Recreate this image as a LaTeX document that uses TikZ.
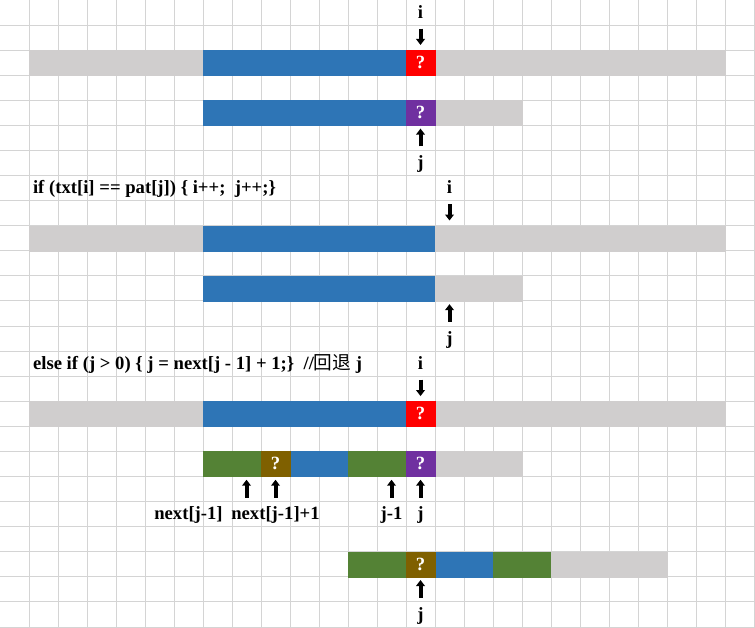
\documentclass[tikz,border=0pt]{standalone}
\usepackage{fontspec}
\setmainfont{Liberation Serif}
\newfontfamily\cjk{Noto Sans CJK SC}
\usetikzlibrary{arrows.meta}
\definecolor{gridgrey}{RGB}{212,212,212}
\definecolor{restgrey}{RGB}{208,206,206}
\definecolor{matchblue}{RGB}{46,117,182}
\definecolor{textred}{RGB}{255,0,0}
\definecolor{patpurple}{RGB}{112,48,160}
\definecolor{prefgreen}{RGB}{84,130,53}
\definecolor{nextbrown}{RGB}{127,96,0}
\tikzset{cell/.style={rectangle, minimum width=21.75pt, minimum height=18.81pt, inner sep=0pt, fill=#1, draw=#1, line width=0.3pt}}
\tikzstyle{gridline} = [draw=gridgrey, line width=0.75pt]
\tikzstyle{qmark} = [text=white, font=\bfseries\fontsize{14}{15}\selectfont, text height=10pt, text depth=1.34pt]
\tikzstyle{ptrname} = [rectangle, minimum width=21.75pt, minimum height=18.81pt, inner sep=0pt, font=\bfseries\fontsize{14}{15}\selectfont, text height=10pt, text depth=1.34pt]
\tikzstyle{code} = [anchor=base west, inner sep=0pt, font=\bfseries\fontsize{14}{15}\selectfont]
\tikzstyle{down} = [line width=3pt, -{Triangle[length=4.5pt,width=6.5pt]}, shorten <=2.4pt, shorten >=3.75pt]
\tikzstyle{up} = [line width=3pt, -{Triangle[length=4.5pt,width=6.5pt]}, shorten <=2.85pt, shorten >=2.25pt]

\begin{document}
\begin{tikzpicture}[x=21.75pt, y=-18.81pt]

\useasboundingbox (0,0) rectangle (26.034,25);
\foreach \c in {1,...,26} \draw[gridline] (\c,0) -- (\c,25);
\foreach \r in {0,...,25} \draw[gridline] (0,\r) -- (26.034,\r);

% mismatch
\foreach \a/\b/\clr in {1/6/restgrey, 7/13/matchblue, 15/24/restgrey}
  \foreach \c in {\a,...,\b}
    \node[cell=\clr] (t1-\c) at (\c+.5,2.5) {};
\node[cell=textred, qmark] (t1-14) at (14.5,2.5) {?};
\foreach \a/\b/\clr in {7/13/matchblue, 15/17/restgrey}
  \foreach \c in {\a,...,\b}
    \node[cell=\clr] (p1-\c) at (\c+.5,4.5) {};
\node[cell=patpurple, qmark] (p1-14) at (14.5,4.5) {?};

\node[ptrname] (i1) at (14.5,0.5) {i};
\node[ptrname] (j1) at (14.5,6.5) {j};
\draw[down] (i1) -- (t1-14);
\draw[up] (j1) -- (p1-14);

% match
\node[code] (c1) at (1.13,7.73) {if (txt[i] == pat[j]) \{ i++;\ \ j++;\}};
\foreach \a/\b/\clr in {1/6/restgrey, 7/14/matchblue, 15/24/restgrey}
  \foreach \c in {\a,...,\b}
    \node[cell=\clr] (t2-\c) at (\c+.5,9.5) {};
\foreach \a/\b/\clr in {7/14/matchblue, 15/17/restgrey}
  \foreach \c in {\a,...,\b}
    \node[cell=\clr] (p2-\c) at (\c+.5,11.5) {};

\node[ptrname] (i2) at (15.5,7.5) {i};
\node[ptrname] (j2) at (15.5,13.5) {j};
\draw[down] (i2) -- (t2-15);
\draw[up] (j2) -- (p2-15);

% back off
\node[code] (c2) at (1.13,14.73) {else if (j > 0) \{ j = next[j - 1] + 1;\}\ \ //{\mdseries\cjk 回退} j};
\foreach \a/\b/\clr in {1/6/restgrey, 7/13/matchblue, 15/24/restgrey}
  \foreach \c in {\a,...,\b}
    \node[cell=\clr] (t3-\c) at (\c+.5,16.5) {};
\node[cell=textred, qmark] (t3-14) at (14.5,16.5) {?};
\foreach \a/\b/\clr in {7/8/prefgreen, 10/11/matchblue, 12/13/prefgreen, 15/17/restgrey}
  \foreach \c in {\a,...,\b}
    \node[cell=\clr] (p3-\c) at (\c+.5,18.5) {};
\node[cell=nextbrown, qmark] (p3-9) at (9.5,18.5) {?};
\node[cell=patpurple, qmark] (p3-14) at (14.5,18.5) {?};

\node[ptrname] (i3) at (14.5,14.5) {i};
\node[ptrname] (nj) at (6.5,20.5) {next[j-1]};
\node[ptrname] (njp) at (9.5,20.5) {next[j-1]+1};
\node[ptrname] (jm) at (13.5,20.5) {j-1};
\node[ptrname] (j3) at (14.5,20.5) {j};
\coordinate (nj-ptr) at (8.5,20);
\draw[down] (i3) -- (t3-14);
\draw[up] (nj-ptr) -- (p3-8);
\draw[up] (njp) -- (p3-9);
\draw[up] (jm) -- (p3-13);
\draw[up] (j3) -- (p3-14);

% shifted pattern
\foreach \a/\b/\clr in {12/13/prefgreen, 15/16/matchblue, 17/18/prefgreen, 19/22/restgrey}
  \foreach \c in {\a,...,\b}
    \node[cell=\clr] (p4-\c) at (\c+.5,22.5) {};
\node[cell=nextbrown, qmark] (p4-14) at (14.5,22.5) {?};

\node[ptrname] (j4) at (14.5,24.5) {j};
\draw[up] (j4) -- (p4-14);

\end{tikzpicture}
\end{document}
